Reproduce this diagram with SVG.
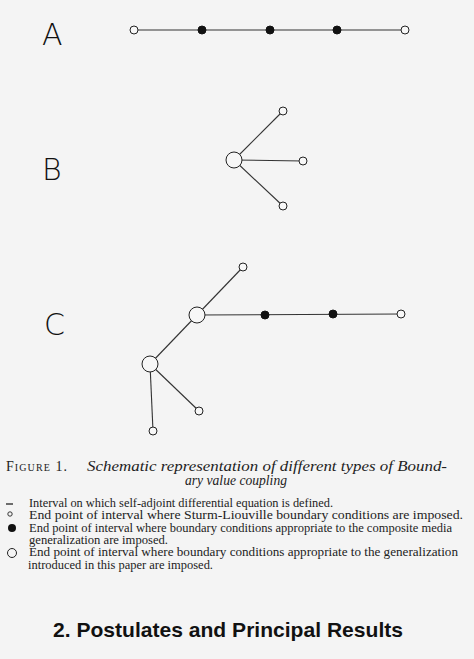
<svg xmlns="http://www.w3.org/2000/svg" width="474" height="659" viewBox="0 0 474 659">
<style>
.bg{fill:#f4f4f4}
.e{stroke:#333;stroke-width:1.1;fill:none}
.o{fill:#f7f7f7;stroke:#222;stroke-width:1}
.f{fill:#111;stroke:#111;stroke-width:1}
.lab{font-family:"DejaVu Sans","Liberation Sans",sans-serif;font-size:30px;font-weight:300;fill:#111}
.cap{font-family:"Liberation Serif",serif;font-size:14px;fill:#222}
.it{font-style:italic}
.leg{font-family:"Liberation Serif",serif;font-size:11.5px;fill:#222}
.h{font-family:"Liberation Sans",sans-serif;font-size:21px;font-weight:bold;fill:#111}
</style>
<rect class="bg" x="0" y="0" width="474" height="659"/>
<g id="connectors">
<line class="e" x1="134" y1="30" x2="405" y2="30"/>
<line class="e" x1="234" y1="160" x2="283" y2="111"/>
<line class="e" x1="234" y1="160" x2="303" y2="161"/>
<line class="e" x1="234" y1="160" x2="283" y2="206"/>
<line class="e" x1="197" y1="315" x2="243" y2="267"/>
<line class="e" x1="197" y1="315" x2="401" y2="314"/>
<line class="e" x1="197" y1="315" x2="150" y2="364"/>
<line class="e" x1="150" y1="364" x2="199" y2="411"/>
<line class="e" x1="150" y1="364" x2="153" y2="431"/>
</g>
<g id="A">
<text class="lab" x="42" y="45">A</text>
<circle class="o" cx="134" cy="30" r="4"/>
<circle class="f" cx="202" cy="30" r="4"/>
<circle class="f" cx="270" cy="30" r="4"/>
<circle class="f" cx="337" cy="30" r="4"/>
<circle class="o" cx="405" cy="30" r="4"/>
</g>
<g id="B">
<text class="lab" x="42" y="180">B</text>
<circle class="o" cx="234" cy="160" r="8"/>
<circle class="o" cx="283" cy="111" r="4"/>
<circle class="o" cx="303" cy="161" r="4"/>
<circle class="o" cx="283" cy="206" r="4"/>
</g>
<g id="C">
<text class="lab" x="44" y="335">C</text>
<circle class="o" cx="197" cy="315" r="8"/>
<circle class="o" cx="243" cy="267" r="4"/>
<circle class="f" cx="265" cy="315" r="4"/>
<circle class="f" cx="333" cy="314" r="4"/>
<circle class="o" cx="401" cy="314" r="4"/>
<circle class="o" cx="150" cy="364" r="8"/>
<circle class="o" cx="199" cy="411" r="4"/>
<circle class="o" cx="153" cy="431" r="4"/>
</g>
<g id="caption">
<text class="cap" x="6" y="471" style="font-variant:small-caps" textLength="61">Figure 1.</text>
<text class="cap it" x="87" y="471" textLength="360" lengthAdjust="spacingAndGlyphs">Schematic representation of different types of Bound-</text>
<text class="cap it" x="185" y="485" textLength="102" lengthAdjust="spacingAndGlyphs">ary value coupling</text>
</g>
<g id="legend">
<line x1="6" y1="504" x2="13" y2="504" stroke="#222" stroke-width="1.3"/>
<text class="leg" x="29" y="507" textLength="304" lengthAdjust="spacingAndGlyphs">Interval on which self-adjoint differential equation is defined.</text>
<circle cx="10" cy="514" r="2.2" fill="none" stroke="#222" stroke-width="0.9"/>
<text class="leg" x="29" y="519.3" textLength="434" lengthAdjust="spacingAndGlyphs">End point of interval where Sturm-Liouville boundary conditions are imposed.</text>
<circle cx="12" cy="528" r="4" fill="#111"/>
<text class="leg" x="29" y="531.6" textLength="423" lengthAdjust="spacingAndGlyphs">End point of interval where boundary conditions appropriate to the composite media</text>
<text class="leg" x="29" y="543.9" textLength="139" lengthAdjust="spacingAndGlyphs">generalization are imposed.</text>
<circle cx="12" cy="553" r="4.5" fill="none" stroke="#222" stroke-width="1"/>
<text class="leg" x="29" y="556.2" textLength="429" lengthAdjust="spacingAndGlyphs">End point of interval where boundary conditions appropriate to the generalization</text>
<text class="leg" x="28" y="568.5" textLength="185" lengthAdjust="spacingAndGlyphs">introduced in this paper are imposed.</text>
</g>
<g id="heading">
<text class="h" x="53" y="637" textLength="350" lengthAdjust="spacingAndGlyphs">2. Postulates and Principal Results</text>
</g>
</svg>
